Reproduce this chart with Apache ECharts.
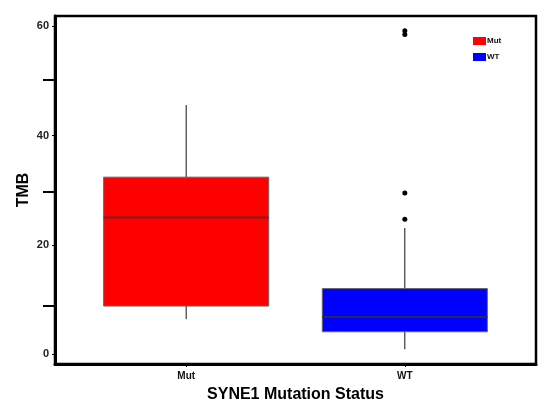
<!DOCTYPE html>
<html>
<head>
<meta charset="utf-8">
<script src="https://cdn.jsdelivr.net/npm/echarts@6/dist/echarts.min.js"></script>
<style>html,body{margin:0;padding:0;background:#fff;}#c{width:550px;height:412px;}</style>
</head>
<body>
<div id="c"></div>
<script>
// ---- data ----
const categories = ['Mut', 'WT'];
const categoryPos = [1, 2];
const boxColors = ['#ff0000', '#0000ff'];
const medianColors = ['#7a2222', '#2a2a50'];
// [min, Q1, median, Q3, max]
const mutStats = [6.4, 8.8, 25.0, 32.4, 45.6];
const wtStats = [0.9, 4.1, 6.8, 12.0, 23.1];
const wtOutliers = [24.7, 29.5, 58.5, 59.2];
const yLabelTicks = [0, 20, 40, 60];
const yLongTicks = [8.8, 29.8, 50.2];
const xTitle = 'SYNE1 Mutation Status';
const yTitle = 'TMB';

const allStats = [mutStats, wtStats];
const boxData = allStats.map((s, i) => [categoryPos[i]].concat(s));
const outlierData = wtOutliers.map(v => [categoryPos[1], v]);

const font = 'Liberation Sans, Arial, Helvetica, sans-serif';
const yMin = -1.8, yMax = 61.9;
const boxFrac = 0.755; // box width as fraction of one x unit

function renderBox(params, api) {
  const i = params.dataIndex;
  const x = api.value(0);
  const pMin = api.coord([x, api.value(1)]);
  const pQ1 = api.coord([x, api.value(2)]);
  const pMed = api.coord([x, api.value(3)]);
  const pQ3 = api.coord([x, api.value(4)]);
  const pMax = api.coord([x, api.value(5)]);
  const w = api.size([boxFrac, 0])[0];
  const cx = pMed[0];
  return {
    type: 'group',
    children: [
      { type: 'line', shape: { x1: cx, y1: pMax[1], x2: cx, y2: pQ3[1] }, style: { stroke: '#111', lineWidth: 1 } },
      { type: 'line', shape: { x1: cx, y1: pQ1[1], x2: cx, y2: pMin[1] }, style: { stroke: '#111', lineWidth: 1 } },
      { type: 'rect', shape: { x: cx - w / 2, y: pQ3[1], width: w, height: pQ1[1] - pQ3[1] },
        style: { fill: boxColors[i], stroke: '#666', lineWidth: 1 } },
      { type: 'line', shape: { x1: cx - w / 2, y1: pMed[1], x2: cx + w / 2, y2: pMed[1] },
        style: { stroke: medianColors[i], lineWidth: 2 } }
    ]
  };
}

const chart = echarts.init(document.getElementById('c'));
chart.setOption({
  animation: false,
  backgroundColor: '#fff',
  grid: { left: 55, right: 14, top: 16, bottom: 48, show: true, borderColor: '#000', borderWidth: 2.5 },
  legend: {
    orient: 'vertical',
    left: 473, top: 37, padding: 0,
    itemWidth: 13, itemHeight: 8, itemGap: 8,
    icon: 'rect',
    textStyle: { fontFamily: font, fontSize: 8, fontWeight: 'bold', color: '#111', padding: [0, 0, 0, -4] },
    data: categories
  },
  xAxis: {
    type: 'value', min: 0.4, max: 2.6,
    name: xTitle, nameLocation: 'middle', nameGap: 23, nameMoveOverlap: false,
    nameTextStyle: { fontFamily: font, fontSize: 16, fontWeight: 'bold', color: '#000' },
    axisLine: { show: true, onZero: false, lineStyle: { color: '#000', width: 3 } },
    axisTick: { show: true, length: 3, customValues: categoryPos, lineStyle: { color: '#000', width: 1 } },
    axisLabel: {
      customValues: categoryPos, margin: 7,
      formatter: v => categories[Math.round(v) - 1] || '',
      fontFamily: font, fontSize: 10, fontWeight: 'bold', color: '#111'
    },
    splitLine: { show: false }
  },
  yAxis: [{
    type: 'value', min: yMin, max: yMax, position: 'left',
    name: yTitle, nameLocation: 'middle', nameGap: 23, nameRotate: 90, nameMoveOverlap: false,
    nameTextStyle: { fontFamily: font, fontSize: 16, fontWeight: 'bold', color: '#000' },
    axisLine: { show: true, onZero: false, lineStyle: { color: '#000', width: 3 } },
    axisTick: { show: true, length: 3, customValues: yLabelTicks, lineStyle: { color: '#000', width: 1 } },
    axisLabel: { customValues: yLabelTicks, margin: 6, fontFamily: font, fontSize: 11, fontWeight: 'bold', color: '#222' },
    splitLine: { show: false }
  }, {
    type: 'value', min: yMin, max: yMax, position: 'left', offset: 0,
    axisLine: { show: false, onZero: false },
    axisTick: { show: true, length: 12, customValues: yLongTicks, lineStyle: { color: '#000', width: 2 } },
    axisLabel: { show: false },
    splitLine: { show: false }
  }],
  series: [{
    type: 'custom',
    renderItem: renderBox,
    encode: { x: 0, y: [1, 2, 3, 4, 5] },
    data: boxData,
    z: 2
  }, {
    type: 'scatter',
    symbolSize: 5,
    itemStyle: { color: '#000', opacity: 1 },
    data: outlierData,
    z: 4
  }, {
    name: categories[0], type: 'scatter', data: [], itemStyle: { color: boxColors[0], opacity: 1 }
  }, {
    name: categories[1], type: 'scatter', data: [], itemStyle: { color: boxColors[1], opacity: 1 }
  }]
});
</script>
</body>
</html>
